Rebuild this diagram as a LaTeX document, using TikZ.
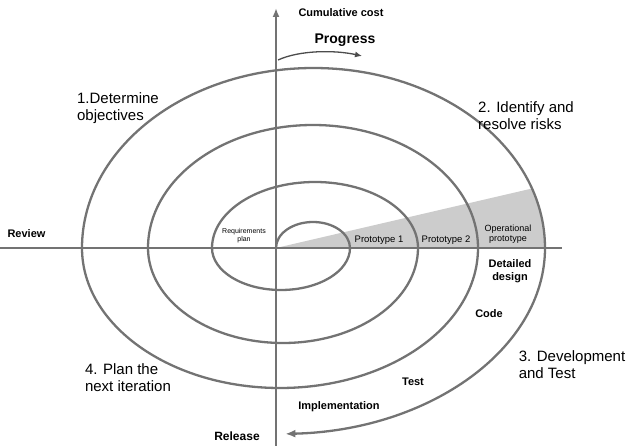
\documentclass[tikz,border=0pt]{standalone}
\usepackage{fontspec}
\setmainfont{Liberation Sans}
\usetikzlibrary{arrows.meta}
\begin{document}
\begin{tikzpicture}[x=1pt,y=-1pt,
  sp/.style={draw=black!55,line width=2.3pt},
  ax/.style={draw=black!55,line width=2pt},
  big/.style={font=\fontsize{15}{17}\selectfont,align=left},
  mid/.style={font=\bfseries\fontsize{11}{13}\selectfont,align=center},
  sm/.style={font=\fontsize{9.5}{11}\selectfont,align=center},
  tiny/.style={font=\fontsize{7}{8}\selectfont,align=center}]
\useasboundingbox (0,0) rectangle (638,446);
% shaded wedge
\begin{scope}
\clip (82,248) arc[start angle=180,end angle=0,x radius=231.5,y radius=-180] -- cycle;
\fill[black!20] (276,248) -- (560,182) -- (560,248) -- cycle;
\end{scope}
% axes
\coordinate (o) at (276,248);
\coordinate (vb) at (276,446);
\coordinate (vt) at (276,8);
\coordinate (hl) at (0,248);
\coordinate (hr) at (562,248);
\draw[ax] (hl) -- (hr);
\draw[ax,-{Latex[length=9pt,width=7pt]}] (vb) -- (vt);
% spiral
\draw[sp] (o)
  arc[start angle=180,end angle=0,x radius=37,y radius=-26]
  arc[start angle=0,end angle=-180,x radius=69,y radius=-42]
  arc[start angle=180,end angle=0,x radius=103,y radius=-66]
  arc[start angle=0,end angle=-180,x radius=135,y radius=-95]
  arc[start angle=180,end angle=0,x radius=165,y radius=-123]
  arc[start angle=0,end angle=-180,x radius=198,y radius=-140]
  arc[start angle=180,end angle=0,x radius=231.5,y radius=-180];
\draw[sp,-{Latex[length=10pt,width=8pt]}] (545,248)
  arc[start angle=0,end angle=-88,x radius=269,y radius=-186];
% progress arrow
\coordinate (pa) at (278,60);
\coordinate (pb) at (362,56);
\draw[line width=1.3pt,black!70,-{Latex[length=7pt,width=6pt]}] (pa) .. controls (300,50) and (335,50) .. (pb);
% labels
\node[mid] (cc) at (341,13) {Cumulative cost};
\node[font=\bfseries\fontsize{14}{16}\selectfont] (pr) at (345,40) {Progress};
\node[big] (l1) at (118,108) {1.Determine\\objectives};
\node[big] (l2) at (526,116) {2. Identify and\\resolve risks};
\node[big] (l3) at (572,365) {3. Development\\and Test};
\node[big] (l4) at (128,378) {4. Plan the\\next iteration};
\node[mid,anchor=west] (rv) at (4,234) {Review};
\node[mid,font=\bfseries\fontsize{12}{14}\selectfont] (rl) at (237,436) {Release};
\node[tiny] (rq) at (244,236) {Requirements\\plan};
\node[sm] (p1) at (379,240) {Prototype 1};
\node[sm] (p2) at (446,240) {Prototype 2};
\node[sm,font=\fontsize{9}{10.5}\selectfont] (op) at (508,234) {Operational\\prototype};
\node[mid] (dd) at (510,271) {Detailed\\design};
\node[mid] (cd) at (489,314) {Code};
\node[mid] (ts) at (413,382) {Test};
\node[mid] (im) at (339,407) {Implementation};
\end{tikzpicture}
\end{document}
